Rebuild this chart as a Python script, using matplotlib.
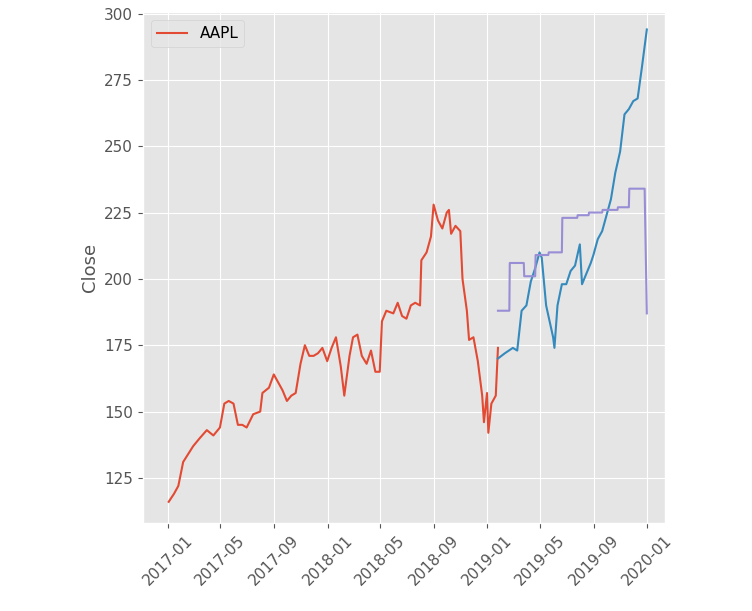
import pandas as pd
import matplotlib
matplotlib.use("Agg")
import matplotlib.pyplot as plt
import matplotlib.dates as mdates

plt.style.use("ggplot")

train_dates = ["2017-01-03", "2017-01-15", "2017-01-25", "2017-02-05", "2017-02-28", "2017-03-15",
               "2017-03-31", "2017-04-15", "2017-04-30", "2017-05-10", "2017-05-20", "2017-05-31",
               "2017-06-10", "2017-06-20", "2017-06-30", "2017-07-15", "2017-07-31", "2017-08-05",
               "2017-08-20", "2017-08-31", "2017-09-10", "2017-09-20", "2017-09-30", "2017-10-10",
               "2017-10-20", "2017-10-31", "2017-11-10", "2017-11-20", "2017-11-30", "2017-12-10",
               "2017-12-20", "2017-12-31", "2018-01-10", "2018-01-20", "2018-01-31", "2018-02-08",
               "2018-02-20", "2018-02-28", "2018-03-10", "2018-03-20", "2018-03-31", "2018-04-10",
               "2018-04-20", "2018-04-30", "2018-05-05", "2018-05-15", "2018-05-31", "2018-06-10",
               "2018-06-20", "2018-06-30", "2018-07-10", "2018-07-20", "2018-07-31", "2018-08-03",
               "2018-08-15", "2018-08-25", "2018-08-31", "2018-09-10", "2018-09-20", "2018-09-30",
               "2018-10-05", "2018-10-10", "2018-10-20", "2018-10-31", "2018-11-05", "2018-11-15",
               "2018-11-20", "2018-11-30", "2018-12-10", "2018-12-20", "2018-12-24", "2018-12-31",
               "2019-01-03", "2019-01-10", "2019-01-20", "2019-01-25"]
train_close = [116, 119, 122, 131, 137, 140, 143, 141, 144, 153, 154, 153, 145, 145, 144, 149, 150, 157,
               159, 164, 161, 158, 154, 156, 157, 168, 175, 171, 171, 172, 174, 169, 174, 178, 167, 156,
               171, 178, 179, 171, 168, 173, 165, 165, 184, 188, 187, 191, 186, 185, 190, 191, 190, 207,
               210, 216, 228, 222, 219, 225, 226, 217, 220, 218, 200, 188, 177, 178, 169, 156, 146, 157,
               142, 153, 156, 174]

valid_dates = ["2019-01-25", "2019-02-10", "2019-02-28", "2019-03-10", "2019-03-20", "2019-03-31",
               "2019-04-10", "2019-04-20", "2019-04-30", "2019-05-05", "2019-05-15", "2019-05-31",
               "2019-06-03", "2019-06-10", "2019-06-20", "2019-06-30", "2019-07-10", "2019-07-20",
               "2019-07-31", "2019-08-05", "2019-08-15", "2019-08-25", "2019-08-31", "2019-09-10",
               "2019-09-20", "2019-09-30", "2019-10-10", "2019-10-20", "2019-10-31", "2019-11-10",
               "2019-11-20", "2019-11-30", "2019-12-10", "2019-12-20", "2019-12-31"]
valid_close = [170, 172, 174, 173, 188, 190, 199, 204, 210, 208, 190, 178, 174, 190, 198, 198, 203, 205,
               213, 198, 202, 206, 209, 215, 218, 224, 230, 240, 248, 262, 264, 267, 268, 280, 294]

pred_dates = ["2019-01-25", "2019-02-20", "2019-02-21", "2019-03-25", "2019-03-26", "2019-04-20",
              "2019-04-21", "2019-05-20", "2019-05-21", "2019-06-20", "2019-06-21", "2019-07-25",
              "2019-07-26", "2019-08-20", "2019-08-21", "2019-09-20", "2019-09-21", "2019-10-25",
              "2019-10-26", "2019-11-20", "2019-11-21", "2019-12-26", "2019-12-31"]
pred_close = [188, 188, 206, 206, 201, 201, 209, 209, 210, 210, 223, 223, 224, 224, 225, 225,
              226, 226, 227, 227, 234, 234, 187]

fig = plt.figure(figsize=(7.52, 6.11), dpi=100)
ax = fig.add_axes([0.19, 0.144, 0.694, 0.836])
ax.plot(pd.to_datetime(train_dates), train_close, label="AAPL")
ax.plot(pd.to_datetime(valid_dates), valid_close)
ax.plot(pd.to_datetime(pred_dates), pred_close, color="#988ED5")
ax.set_ylabel("Close", fontsize=13)
ax.set_ylim(108, 300.5)
ax.set_xlim(pd.Timestamp("2016-11-05"), pd.Timestamp("2020-02-10"))
ax.xaxis.set_major_locator(mdates.MonthLocator(bymonth=[1, 5, 9]))
ax.xaxis.set_major_formatter(mdates.DateFormatter("%Y-%m"))
ax.tick_params(labelsize=11)
plt.setp(ax.get_xticklabels(), rotation=45)
ax.legend(loc="upper left", fontsize=11)
fig.savefig("out.png")
